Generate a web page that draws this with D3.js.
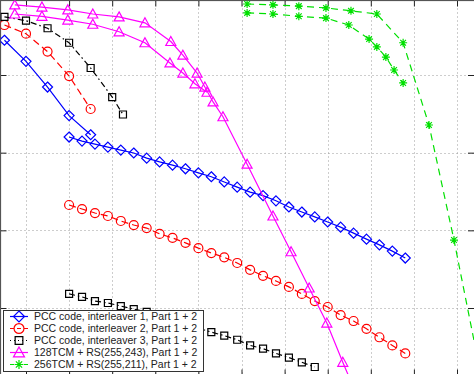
<!DOCTYPE html>
<html>
<head>
<meta charset="utf-8">
<script src="https://cdn.jsdelivr.net/npm/d3@7"></script>
<style>
  html, body { margin: 0; padding: 0; background: #fff; overflow: hidden; }
  svg { display: block; font-family: "Liberation Sans", Arial, sans-serif; }
</style>
</head>
<body>
<div id="chart"></div>
<script>
// grid / tick positions (labels fall outside the cropped view)
const xTicks = [0, 1, 2, 3, 4, 5, 6, 7, 8, 9, 10];
const yTicks = [1e-1, 1e-2, 1e-3, 1e-4];

// PCC code, interleaver 1
const pcc1AX = [-0.5, 0, 0.5, 1.0, 1.5];
const pcc1AY = [0.28, 0.15, 0.070, 0.030, 0.017];
const pcc1BX = [1.0, 1.3, 1.6, 1.9, 2.2, 2.5, 2.8, 3.1, 3.4, 3.7, 4.0, 4.3, 4.6, 4.9, 5.2, 5.5, 5.8, 6.1, 6.4, 6.7, 7.0, 7.3, 7.6, 7.9, 8.2, 8.5, 8.8];
const pcc1BY = [1.59e-2, 1.41e-2, 1.29e-2, 1.18e-2, 1.08e-2, 9.9e-3, 8.5e-3, 7.6e-3, 6.9e-3, 6.2e-3, 5.5e-3, 4.9e-3, 4.2e-3, 3.6e-3, 3.1e-3, 2.8e-3, 2.4e-3, 2.0e-3, 1.72e-3, 1.49e-3, 1.28e-3, 1.10e-3, 9.2e-4, 7.7e-4, 6.5e-4, 5.4e-4, 4.4e-4];

// PCC code, interleaver 2
const pcc2AX = [-0.5, 0, 0.5, 1.0, 1.5];
const pcc2AY = [0.44, 0.34, 0.20, 0.097, 0.0365];
const pcc2BX = [1.0, 1.3, 1.6, 1.9, 2.2, 2.5, 2.8, 3.1, 3.4, 3.7, 4.0, 4.3, 4.6, 4.9, 5.2, 5.5, 5.8, 6.1, 6.4, 6.7, 7.0, 7.3, 7.6, 7.9, 8.2, 8.5, 8.8];
const pcc2BY = [2.12e-3, 1.88e-3, 1.67e-3, 1.53e-3, 1.32e-3, 1.17e-3, 1.07e-3, 9.0e-4, 8.0e-4, 6.9e-4, 5.9e-4, 5.1e-4, 4.5e-4, 3.8e-4, 3.1e-4, 2.6e-4, 2.23e-4, 1.87e-4, 1.52e-4, 1.23e-4, 1.03e-4, 8.1e-5, 6.8e-5, 5.4e-5, 4.2e-5, 3.3e-5, 2.6e-5];

// PCC code, interleaver 3
const pcc3AX = [-0.5, 0, 0.5, 1.0, 1.5, 2.0, 2.25];
const pcc3AY = [0.56, 0.50, 0.40, 0.26, 0.123, 0.052, 0.031];
const pcc3BX = [1.0, 1.3, 1.6, 1.9, 2.2, 2.5, 2.8, 3.1, 3.4, 3.7, 4.0, 4.3, 4.6, 4.9, 5.2, 5.5, 5.8, 6.1, 6.4, 6.7];
const pcc3BY = [1.52e-4, 1.39e-4, 1.23e-4, 1.16e-4, 1.06e-4, 9.7e-5, 8.9e-5, 7.9e-5, 7.0e-5, 6.2e-5, 5.5e-5, 4.9e-5, 4.4e-5, 3.9e-5, 3.3e-5, 3.0e-5, 2.6e-5, 2.3e-5, 2.0e-5, 1.74e-5];

// 128TCM + RS(255,243)
const tcm128AX = [-0.26, 0.37, 0.97, 1.55, 2.16, 2.76, 3.36, 3.64, 3.97, 4.15, 4.34, 4.57, 5.13, 5.73, 6.15, 6.57, 6.98, 7.35, 7.73];
const tcm128AY = [0.80, 0.75, 0.69, 0.61, 0.56, 0.47, 0.27, 0.18, 0.106, 0.070, 0.045, 0.029, 7.1e-3, 1.53e-3, 5.3e-4, 1.81e-4, 6.4e-5, 2.0e-5, 6.4e-6];
const tcm128BX = [-0.26, 0.37, 0.97, 1.55, 2.16, 2.76, 3.34, 3.64, 3.92, 4.20];
const tcm128BY = [0.61, 0.57, 0.51, 0.45, 0.36, 0.26, 0.143, 0.106, 0.077, 0.060];

// 256TCM + RS(255,211)
const tcm256AX = [5.13, 5.73, 6.33, 6.96, 7.54, 8.14, 8.75, 9.35, 9.93, 10.53];
const tcm256AY = [0.82, 0.80, 0.77, 0.73, 0.67, 0.61, 0.26, 0.0227, 7.5e-4, 1.6e-5];
const tcm256BX = [5.13, 5.73, 6.33, 6.96, 7.49, 7.96, 8.14, 8.35, 8.54, 8.75];
const tcm256BY = [0.63, 0.61, 0.57, 0.54, 0.44, 0.29, 0.23, 0.17, 0.116, 0.079];

const legendLabels = [
  "PCC code, interleaver 1, Part 1 + 2",
  "PCC code, interleaver 2, Part 1 + 2",
  "PCC code, interleaver 3, Part 1 + 2",
  "128TCM + RS(255,243), Part 1 + 2",
  "256TCM + RS(255,211), Part 1 + 2"
];

const zip = (xs, ys) => xs.map((x, i) => ({ x: x, y: ys[i] }));

const series = [
  { color: "#0000ff", marker: "diamond", dash: null, parts: [zip(pcc1AX, pcc1AY), zip(pcc1BX, pcc1BY)] },
  { color: "#ff0000", marker: "circle", dash: "7,4", parts: [zip(pcc2AX, pcc2AY), zip(pcc2BX, pcc2BY)] },
  { color: "#000000", marker: "square", dash: "6,3,1.5,3", parts: [zip(pcc3AX, pcc3AY), zip(pcc3BX, pcc3BY)] },
  { color: "#ff00ff", marker: "triangle", dash: null, parts: [zip(tcm128AX, tcm128AY), zip(tcm128BX, tcm128BY)] },
  { color: "#00e000", marker: "star", dash: "7,5", parts: [zip(tcm256AX, tcm256AY), zip(tcm256BX, tcm256BY)] }
];

const W = 474, H = 374;
const box = { left: 0.5, top: 0.5, right: 475.5, bottom: 375.5 };

const x = d3.scaleLinear().domain([0, 10]).range([26, 457]);
const y = d3.scaleLog().domain([1e-5, 1]).range([385.68, -2.67]);

const svg = d3.select("#chart").append("svg")
  .attr("width", W)
  .attr("height", H);

svg.append("defs").append("clipPath").attr("id", "plotclip")
  .append("rect")
  .attr("x", box.left).attr("y", box.top)
  .attr("width", box.right - box.left).attr("height", box.bottom - box.top);

// dotted grid
const grid = svg.append("g").attr("stroke", "#9a9a9a").attr("stroke-width", 1).attr("stroke-dasharray", "1,3");
grid.selectAll("line.vx").data(xTicks).enter().append("line")
  .attr("x1", d => Math.round(x(d)) + 0.5).attr("x2", d => Math.round(x(d)) + 0.5)
  .attr("y1", box.top).attr("y2", box.bottom);
grid.selectAll("line.hy").data(yTicks).enter().append("line")
  .attr("y1", d => Math.round(y(d)) + 0.5).attr("y2", d => Math.round(y(d)) + 0.5)
  .attr("x1", box.left).attr("x2", box.right);

// axes box with inward ticks, no labels (cropped)
const tickLen = 6;
svg.append("g").attr("transform", `translate(0,${box.bottom})`)
  .call(d3.axisBottom(x).tickValues(xTicks).tickSize(-tickLen).tickFormat(""))
  .call(g => g.select(".domain").remove());
svg.append("g").attr("transform", `translate(0,${box.top})`)
  .call(d3.axisTop(x).tickValues(xTicks).tickSize(-tickLen).tickFormat(""))
  .call(g => g.select(".domain").remove());
svg.append("g").attr("transform", `translate(${box.left},0)`)
  .call(d3.axisLeft(y).tickValues(yTicks).tickSize(-tickLen).tickFormat(""))
  .call(g => g.select(".domain").remove());
svg.append("g").attr("transform", `translate(${box.right - 1.5},0)`)
  .call(d3.axisRight(y).tickValues(yTicks).tickSize(-tickLen).tickFormat(""))
  .call(g => g.select(".domain").remove());
svg.selectAll(".tick line").attr("stroke", "#222");

svg.append("rect")
  .attr("x", box.left).attr("y", box.top)
  .attr("width", box.right - box.left).attr("height", box.bottom - box.top)
  .attr("fill", "none").attr("stroke", "#555").attr("stroke-width", 1.2);

function drawMarker(g, type, color, s) {
  const m = g.append("path").attr("fill", "none").attr("stroke", color).attr("stroke-width", 1.2);
  if (type === "diamond") m.attr("d", `M0,${-s}L${s},0L0,${s}L${-s},0Z`);
  else if (type === "circle") m.attr("d", d3.arc()({ innerRadius: 0, outerRadius: s * 0.9, startAngle: 0, endAngle: 2 * Math.PI }));
  else if (type === "square") m.attr("d", `M${-s * 0.7},${-s * 0.7}H${s * 0.7}V${s * 0.7}H${-s * 0.7}Z`);
  else if (type === "triangle") m.attr("d", `M0,${-s}L${s},${s * 0.8}L${-s},${s * 0.8}Z`);
  else if (type === "star") {
    const k = s * 0.8, d = s * 0.57;
    m.attr("d", `M${-k},0H${k}M0,${-k}V${k}M${-d},${-d}L${d},${d}M${-d},${d}L${d},${-d}`);
  }
}

const line = d3.line().x(d => x(d.x)).y(d => y(d.y));
const plot = svg.append("g").attr("clip-path", "url(#plotclip)");

series.forEach(s => {
  s.parts.forEach(part => {
    plot.append("path")
      .datum(part)
      .attr("fill", "none")
      .attr("stroke", s.color)
      .attr("stroke-width", 1.2)
      .attr("stroke-dasharray", s.dash)
      .attr("d", line);
    part.forEach(p => {
      const g = plot.append("g").attr("transform", `translate(${x(p.x)},${y(p.y)})`);
      drawMarker(g, s.marker, s.color, 5);
    });
  });
});

// legend (lower left)
const lg = svg.append("g").attr("transform", "translate(3,310)");
lg.append("rect")
  .attr("x", 0.5).attr("y", 0.5)
  .attr("width", 200).attr("height", 61)
  .attr("fill", "#fff").attr("stroke", "#333").attr("stroke-width", 1);

series.forEach((s, i) => {
  const ry = 6.5 + i * 12;
  lg.append("line")
    .attr("x1", 7).attr("x2", 25).attr("y1", ry).attr("y2", ry)
    .attr("stroke", s.color).attr("stroke-width", 1.2)
    .attr("stroke-dasharray", s.marker === "square" ? "1,3" : s.dash ? "4,3" : null);
  drawMarker(lg.append("g").attr("transform", `translate(16,${ry})`), s.marker, s.color, 5.5);
  lg.append("text")
    .attr("x", 31).attr("y", ry + 3.8)
    .attr("font-size", 10.5)
    .attr("fill", "#222")
    .text(legendLabels[i]);
});
</script>
</body>
</html>
